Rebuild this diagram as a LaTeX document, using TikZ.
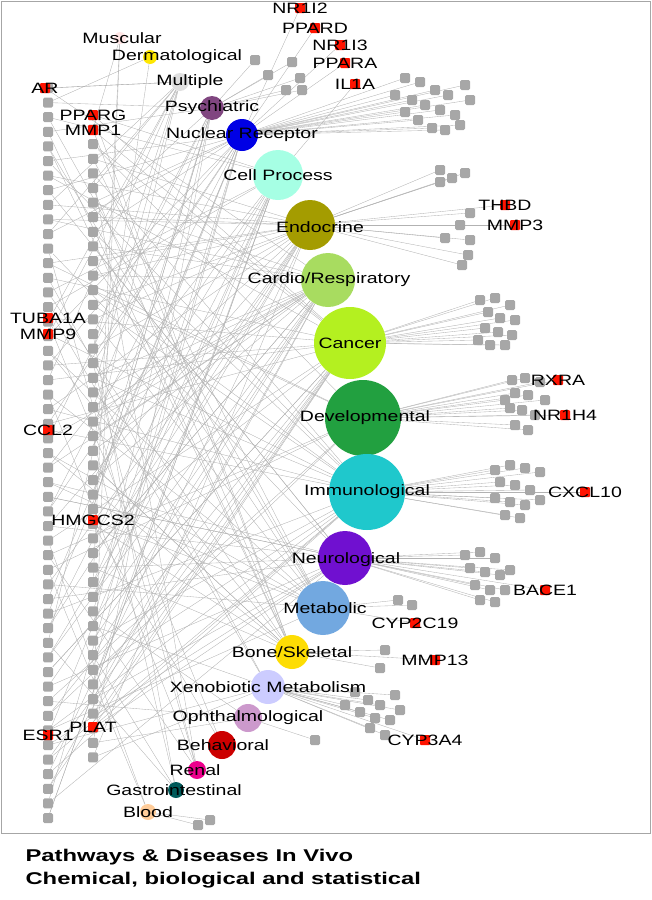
\documentclass[tikz,border=0pt]{standalone}
\usepackage{fontspec}
\setmainfont{Liberation Sans}
\usetikzlibrary{backgrounds}
\newcommand{\wide}[1]{\scalebox{1.3}[1]{#1}}
\begin{document}
\begin{tikzpicture}[x=1pt,y=-1pt,
  sq/.style={draw=none,fill=gray!85!black!60,minimum size=10pt,inner sep=0pt,rounded corners=1.5pt},
  gene/.style={fill=red!85!orange,minimum size=10pt,inner sep=0pt,rounded corners=1pt},
  dis/.style={circle,inner sep=0pt},
  lbl/.style={font=\fontsize{15}{15}\selectfont,inner sep=0pt},
  edge/.style={draw=gray!60,line width=0.35pt}]
\useasboundingbox (0,0) rectangle (651,900);
\draw[gray!70,line width=0.6pt] (1,1) rectangle (650,833);
% disease circles
\definecolor{cimm}{HTML}{1FC8CC}
\definecolor{cneu}{HTML}{7010D0}
\definecolor{cmet}{HTML}{72A8E0}
\definecolor{ccar}{HTML}{A8DC60}
\definecolor{cdev}{HTML}{22A040}
\definecolor{ccan}{HTML}{B4F020}
\foreach \n/\x/\y/\r/\c in {
 1/120/38/6/{pink!40},2/150/57/7/{yellow!90!orange},3/180/82/9/{gray!25},
 4/212/108/12/{violet!45!gray},5/242/135/16/{blue!90!black},6/278/175/25/{green!30!cyan!35},
 7/310/225/25/{olive!80!yellow},8/328/280/27/ccar,9/350/343/36/ccan,
 10/363/418/38/cdev,11/367/492/38/cimm,12/345/558/27/cneu,
 13/323/608/27/cmet,14/292/652/17/{yellow!80!orange},15/268/687/17/{blue!20},
 16/248/718/14/{violet!40},17/222/745/14/{red!80!black},18/197/770/9/{magenta},
 19/176/790/8/{teal!70!black},20/148/812/8/{orange!40}}{
 \node[dis,fill=\c,minimum size=2*\r pt] (D\n) at (\x,\y) {};
}
% left columns
\foreach \i in {0,...,50}{\node[sq] (L\i) at (48,88+14.6*\i) {};}
\foreach \i in {0,...,44}{\node[sq] (M\i) at (93,115+14.6*\i) {};}
% clusters
\foreach \d/\pts in {
 5/{(405,78),(420,82),(435,90),(448,95),(412,100),(425,105),(440,110),(455,115),(470,100),(418,120),(432,128),(445,130),(460,125),(405,112),(395,95),(465,85)},
 4/{(255,60),(268,75),(292,62),(300,78),(286,90),(302,90)},
 7/{(440,170),(452,178),(465,173),(440,182),(470,213),(460,225),(445,238),(470,240),(468,255),(462,265)},
 9/{(480,300),(495,298),(510,305),(488,312),(500,318),(515,320),(485,328),(498,332),(512,335),(478,340),(505,345),(490,345)},
 10/{(512,380),(525,378),(540,382),(515,393),(528,395),(545,400),(510,408),(522,410),(535,415),(515,425),(528,430),(505,400)},
 11/{(495,470),(510,465),(525,468),(540,472),(500,482),(515,485),(530,490),(495,498),(510,502),(525,505),(540,500),(505,515),(520,518)},
 12/{(465,555),(480,552),(495,558),(470,568),(485,572),(500,575),(475,585),(490,590),(505,590),(480,600),(495,602),(510,570)},
 13/{(398,600),(412,605)},
 14/{(385,650),(380,668)},
 15/{(355,692),(368,700),(380,705),(395,695),(360,712),(375,718),(390,720),(370,728),(400,710),(345,705),(385,735)},
 16/{(315,740)},
 20/{(198,825),(210,820)}}{
 \foreach \p [count=\k] in \pts {
  \node[sq] (C\d-\k) at \p {};
  \begin{pgfonlayer}{background}\draw[edge] (C\d-\k) -- (D\d);\end{pgfonlayer}
 }
}
% genes
\foreach \nm/\x/\y/\d in {NR1I2/300/8/5,PPARD/315/28/5,NR1I3/340/45/5,PPARA/345/63/5,IL1A/355/84/6,
 AR/45/88/8,PPARG/93/115/6,MMP1/93/130/9,THBD/505/205/7,MMP3/515/225/7,TUBA1A/48/318/9,MMP9/48/334/11,
 RXRA/558/380/10,NR1H4/565/415/10,CCL2/48/430/11,CXCL10/585/492/11,HMGCS2/93/520/13,BACE1/545/590/12,
 CYP2C19/415/623/13,MMP13/435/660/14,ESR1/48/735/6,PLAT/93/727/11,CYP3A4/425/740/15}{
 \node[gene,label={[lbl]center:\wide{\nm}}] (G\nm) at (\x,\y) {};
 \begin{pgfonlayer}{background}\draw[edge] (G\nm) -- (D\d);\end{pgfonlayer}
}
% random edges from left columns
\pgfmathsetseed{42}
\begin{pgfonlayer}{background}
\foreach \i in {0,...,50}{
 \pgfmathrandominteger{\a}{1}{20}\pgfmathrandominteger{\b}{3}{15}
 \draw[edge] (L\i) -- (D\a); \draw[edge] (L\i) -- (D\b);}
\foreach \i in {0,...,44}{
 \pgfmathrandominteger{\a}{1}{20}\pgfmathrandominteger{\b}{4}{14}
 \draw[edge] (M\i) -- (D\a); \draw[edge] (M\i) -- (D\b);}
\end{pgfonlayer}
% disease labels
\foreach \n/\t/\dx/\dy in {1/Muscular/2/0,2/Dermatological/27/0,3/Multiple/10/0,4/Psychiatric/0/0,
 5/Nuclear Receptor/0/0,6/Cell Process/0/0,7/Endocrine/10/2,8/{Cardio/Respiratory}/1/0,9/Cancer/0/0,
 10/Developmental/2/0,11/Immunological/0/0,12/Neurological/1/2,13/Metabolic/2/0,14/{Bone/Skeletal}/0/0,
 15/Xenobiotic Metabolism/0/0,16/Ophthalmological/0/0,17/Behavioral/1/0,18/Renal/-2/0,
 19/Gastrointestinal/-2/0,20/Blood/0/0}{
 \node[lbl] at ([xshift=\dx pt,yshift=-\dy pt]D\n) {\wide{\t}};
}
\node[anchor=west,font=\bfseries\fontsize{17}{17}\selectfont] at (22,857) {\scalebox{1.4}[1]{Pathways \& Diseases In Vivo}};
\node[anchor=west,font=\bfseries\fontsize{17}{17}\selectfont] at (22,880) {\scalebox{1.4}[1]{Chemical, biological and statistical}};
\end{tikzpicture}
\end{document}
